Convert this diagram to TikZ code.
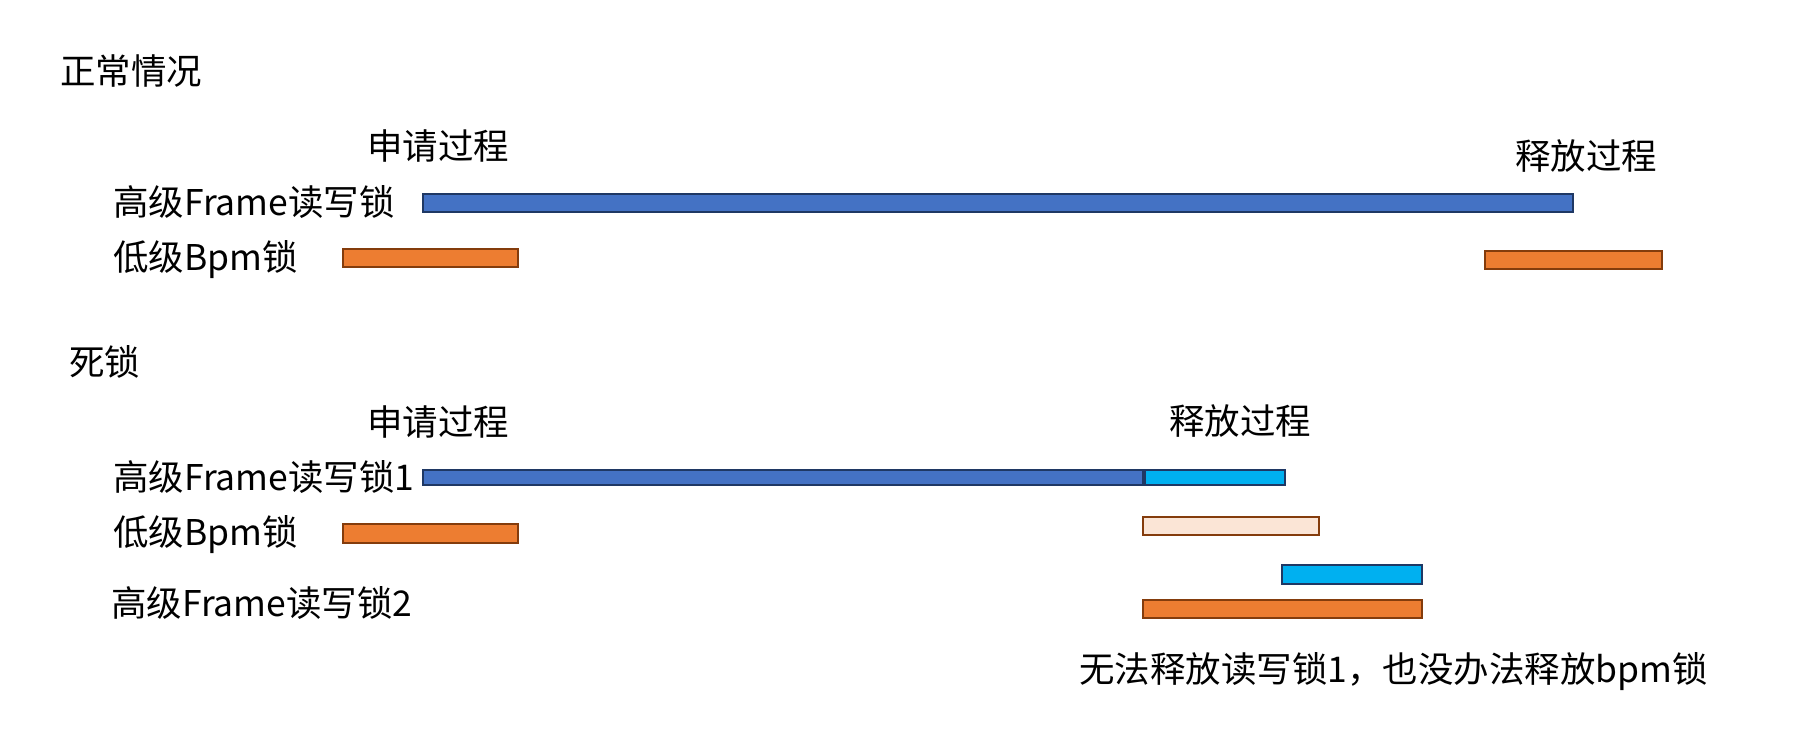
\documentclass[tikz,border=0pt]{standalone}
\usepackage{fontspec}
\setmainfont{Noto Sans CJK SC}
\usepackage{tikz}
\definecolor{barblue}{HTML}{4472C4}
\definecolor{barcyan}{HTML}{00B0F0}
\definecolor{barorange}{HTML}{ED7D31}
\definecolor{barpale}{HTML}{FBE5D6}
\definecolor{edgeblue}{HTML}{1F3864}
\definecolor{edgebrown}{HTML}{843C0C}
\tikzstyle{label} = [anchor=west, inner sep=0pt, text height=22pt, text depth=3pt, font=\fontsize{26.6}{32}\selectfont]
\tikzstyle{bar} = [rectangle, anchor=north west, inner sep=0pt, line width=1.5pt]
\tikzstyle{highbar} = [bar, draw=edgeblue, fill=barblue]
\tikzstyle{releasebar} = [bar, draw=edgeblue, fill=barcyan]
\tikzstyle{lowbar} = [bar, draw=edgebrown, fill=barorange]
\tikzstyle{fadedbar} = [bar, draw=edgebrown, fill=barpale]

\begin{document}
\begin{tikzpicture}[x=0.75pt, y=-0.75pt]

\fill [white] (0,0) rectangle (1798,732);
\useasboundingbox (0,0) rectangle (1798,732);

% normal case
\node (0) [label] at (60,72) {正常情况};
\node (1) [label] at (367,147) {申请过程};
\node (2) [label] at (1515,157) {释放过程};
\node (3) [label] at (113,203) {高级Frame读写锁};
\node (4) [label] at (113,258) {低级Bpm锁};

\node (b0) [highbar, minimum width=1150*0.75pt, minimum height=18*0.75pt] at (422,193) {};
\node (b1) [lowbar, minimum width=175*0.75pt, minimum height=18*0.75pt] at (342,248) {};
\node (b2) [lowbar, minimum width=177*0.75pt, minimum height=18*0.75pt] at (1484,250) {};

% deadlock
\node (5) [label] at (69,363) {死锁};
\node (6) [label] at (367,423) {申请过程};
\node (7) [label] at (1169,422) {释放过程};
\node (8) [label] at (113,478) {高级Frame读写锁1};
\node (9) [label] at (113,533) {低级Bpm锁};
\node (10) [label] at (111,604) {高级Frame读写锁2};
\node (11) [label] at (1079,670) {无法释放读写锁1，也没办法释放bpm锁};

\node (b3) [highbar, minimum width=720*0.75pt, minimum height=15*0.75pt] at (422,469) {};
\node (b4) [lowbar, minimum width=175*0.75pt, minimum height=19*0.75pt] at (342,523) {};
\node (b5) [releasebar, minimum width=140*0.75pt, minimum height=15*0.75pt] at (b3.north east) {};
\node (b6) [fadedbar, minimum width=176*0.75pt, minimum height=18*0.75pt] at (1142,516) {};
\node (b7) [releasebar, minimum width=140*0.75pt, minimum height=19*0.75pt] at (1281,564) {};
\node (b8) [lowbar, minimum width=279*0.75pt, minimum height=18*0.75pt] at (1142,599) {};

\end{tikzpicture}
\end{document}
